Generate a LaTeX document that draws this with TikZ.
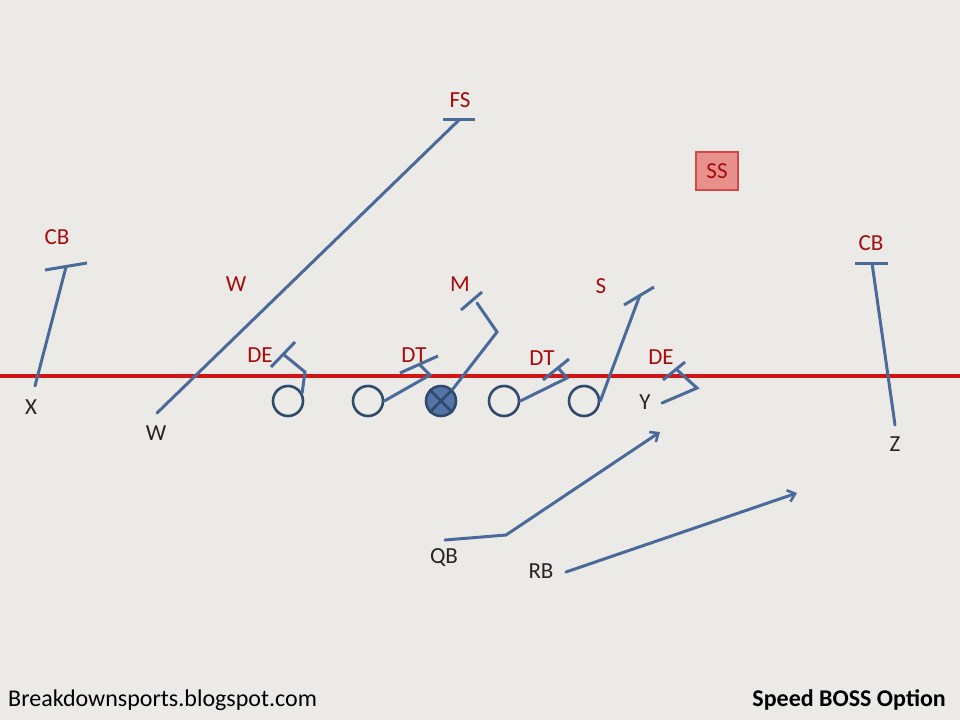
\documentclass[tikz,border=0pt]{standalone}
\usepackage{fontspec}
\setmainfont{Carlito}
\usetikzlibrary{arrows.meta}
\definecolor{bg}{HTML}{ECEAE7}
\definecolor{route}{HTML}{4A6B9A}
\definecolor{ring}{HTML}{2F4A6C}
\definecolor{cfill}{HTML}{5474A8}
\definecolor{dred}{HTML}{A50C0C}
\definecolor{los}{HTML}{D01515}
\definecolor{ssfill}{HTML}{E8918C}
\definecolor{ssdraw}{HTML}{D24A48}
\tikzset{
  rt/.style={route, line width=3pt, line cap=round, line join=miter},
  bar/.style={route, line width=3pt},
  arr/.style={rt, -{Straight Barb[length=7pt,width=12pt,line width=2.6pt]}},
  player/.style={circle, draw=ring, line width=2.6pt, minimum size=30pt, inner sep=0pt},
  deflab/.style={text=dred, font=\fontsize{23}{23}\selectfont, inner sep=1pt},
  offlab/.style={text=black!85, font=\fontsize{23}{23}\selectfont, inner sep=1pt},
}
\begin{document}
\begin{tikzpicture}[x=1pt,y=-1pt]
\useasboundingbox (0,0) rectangle (960,720);
\fill[bg] (0,0) rectangle (960,720);
% line of scrimmage
\coordinate (losL) at (0,376);
\coordinate (losR) at (960,376);
\draw[los, line width=3.2pt] (losL) -- (losR);
% linemen
\node[player] (LT) at (288,401) {};
\node[player] (LG) at (368,401) {};
\node[player, fill=cfill] (C) at (441,401) {};
\draw[ring, line width=2.6pt] (C.north east) -- (C.south west) (C.north west) -- (C.south east);
\node[player] (RG) at (504,401) {};
\node[player] (RT) at (584,401) {};
% labels offense
\node[offlab] (X) at (31,407) {X};
\node[offlab] (W) at (156,433) {W};
\node[offlab] (Y) at (645,402) {Y};
\node[offlab] (Z) at (895,444) {Z};
\node[offlab] (QB) at (444,558) {QB};
\node[offlab] (RB) at (541,571) {RB};
% labels defense
\node[deflab] (CBl) at (57,237) {CB};
\node[deflab] (FS) at (460,100) {FS};
\node[deflab] (Wl) at (236,284) {W};
\node[deflab] (M) at (460,284) {M};
\node[deflab] (S) at (601,286) {S};
\node[deflab] (DEl) at (260,355) {DE};
\node[deflab] (DTl) at (414,355) {DT};
\node[deflab] (DTr) at (542,358) {DT};
\node[deflab] (DEr) at (661,357) {DE};
\node[deflab] (CBr) at (871,243) {CB};
\node[deflab, draw=ssdraw, line width=1.6pt, fill=ssfill, minimum width=42pt, minimum height=38pt] (SS) at (717,171) {SS};
% coordinates of route points
\coordinate (x0) at (35,386);  \coordinate (x1) at (66,267);
\coordinate (xb1) at (45,270); \coordinate (xb2) at (87,263);
\coordinate (w0) at (157,413); \coordinate (w1) at (459,120);
\coordinate (wb1) at (443,119); \coordinate (wb2) at (475,119);
\coordinate (lt1) at (305,372); \coordinate (lt2) at (283,354);
\coordinate (ltb1) at (271,367); \coordinate (ltb2) at (295,342);
\coordinate (lg1) at (430,375); \coordinate (lg2) at (420,365);
\coordinate (lgb1) at (400,373); \coordinate (lgb2) at (438,356);
\coordinate (c1) at (497,332); \coordinate (c2) at (477,303);
\coordinate (cb1) at (461,310); \coordinate (cb2) at (482,292);
\coordinate (rg1) at (567,378); \coordinate (rg2) at (559,369);
\coordinate (rgb1) at (543,380); \coordinate (rgb2) at (569,359);
\coordinate (rt1) at (640,295);
\coordinate (rtb1) at (624,305); \coordinate (rtb2) at (654,287);
\coordinate (y0) at (662,403); \coordinate (y1) at (697,388); \coordinate (y2) at (676,369);
\coordinate (yb1) at (663,380); \coordinate (yb2) at (685,362);
\coordinate (z0) at (895,425); \coordinate (z1) at (872,263);
\coordinate (zb1) at (855,263); \coordinate (zb2) at (888,263);
\coordinate (qb0) at (445,540); \coordinate (qb1) at (506,535); \coordinate (qb2) at (660,432);
\coordinate (rb0) at (566,572); \coordinate (rb1) at (797,493);
% routes
\draw[rt] (x0) -- (x1); \draw[bar] (xb1) -- (xb2);
\draw[rt] (w0) -- (w1); \draw[bar] (wb1) -- (wb2);
\draw[rt] (LT.30) -- (lt1) -- (lt2); \draw[bar] (ltb1) -- (ltb2);
\draw[rt] (LG.east) -- (lg1) -- (lg2); \draw[bar] (lgb1) -- (lgb2);
\draw[rt] (C.45) -- (c1) -- (c2); \draw[bar] (cb1) -- (cb2);
\draw[rt] (RG.east) -- (rg1) -- (rg2); \draw[bar] (rgb1) -- (rgb2);
\draw[rt] (RT.east) -- (rt1); \draw[bar] (rtb1) -- (rtb2);
\draw[rt] (y0) -- (y1) -- (y2); \draw[bar] (yb1) -- (yb2);
\draw[rt] (z0) -- (z1); \draw[bar] (zb1) -- (zb2);
\draw[arr] (qb0) -- (qb1) -- (qb2);
\draw[arr] (rb0) -- (rb1);
% footer
\node[anchor=west, font=\fontsize{24}{24}\selectfont, inner sep=0pt] (site) at (8,700) {Breakdownsports.blogspot.com};
\node[anchor=east, font=\bfseries\fontsize{24}{24}\selectfont, inner sep=0pt] (title) at (946,700) {Speed BOSS Option};
\end{tikzpicture}
\end{document}
